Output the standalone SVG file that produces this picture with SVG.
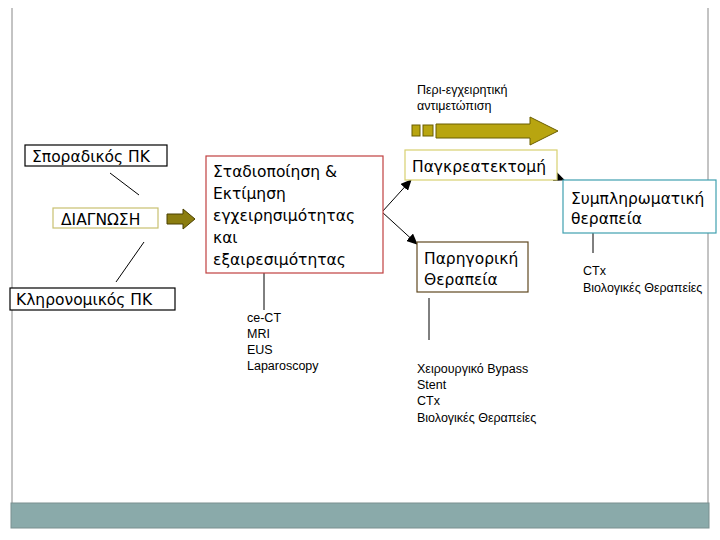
<svg xmlns="http://www.w3.org/2000/svg" width="720" height="540" viewBox="0 0 720 540">
<style>
.t{font-family:"Liberation Sans",Arial,sans-serif;fill:#000}
.b{font-family:"DejaVu Sans","Liberation Sans",sans-serif;font-size:15.5px}
.s{font-size:12.5px}
.box{fill:#fff;stroke-width:1.2}
.ln{stroke:#000;stroke-width:1;fill:none}
</style>
<defs><marker id="ah" markerWidth="11" markerHeight="10" refX="10" refY="5" orient="auto" markerUnits="userSpaceOnUse"><path d="M0,0L11,5L0,10Z" fill="#000"/></marker></defs>
<rect width="720" height="540" fill="#fff"/>
<line x1="12" y1="8" x2="12" y2="504" stroke="#888"/>
<line x1="708" y1="8" x2="708" y2="504" stroke="#888"/>
<rect x="11" y="503" width="698" height="25" fill="#8aaaaa" stroke="#7a9090"/>
<g id="connectors">
<line class="ln" x1="110" y1="173" x2="139" y2="195"/>
<line class="ln" x1="144" y1="242" x2="116" y2="282"/>
<path d="M167,214h16v-5l12,10l-12,10v-5h-16z" fill="#8b7d10" stroke="#4a4000"/>
<line class="ln" x1="264" y1="268" x2="264" y2="310"/>
<line class="ln" stroke-width="2" x1="382" y1="212" x2="411" y2="180" marker-end="url(#ah)"/>
<line class="ln" stroke-width="2" x1="382" y1="212" x2="417" y2="244" marker-end="url(#ah)"/>
<line class="ln" stroke-width="1.5" x1="546" y1="173" x2="564" y2="180" marker-end="url(#ah)"/>
<line class="ln" x1="593" y1="233" x2="593" y2="253"/>
<line class="ln" x1="429" y1="298" x2="429" y2="340"/>
</g>
<g id="periop">
<text class="t s" x="417" y="94" fill="#333">Περι-εγχειρητική</text>
<text class="t s" x="417" y="110" fill="#333">αντιμετώπιση</text>
<g fill="#b8a510" stroke="#6b5e00">
<rect x="412" y="125" width="8" height="11"/>
<rect x="423" y="125" width="10" height="11"/>
<path d="M436,124h94v-7l28,14l-28,14v-7h-94z"/>
</g>
</g>
<g id="sporadic"><rect class="box" x="25" y="145" width="142" height="21" stroke="#000"/><text class="t b" x="32" y="162">Σποραδικός ΠΚ</text></g>
<g id="diagnosis"><rect class="box" x="53" y="208" width="105" height="20" stroke="#c8c070"/><text class="t b" x="61" y="225">ΔΙΑΓΝΩΣΗ</text></g>
<g id="hereditary"><rect class="box" x="10" y="288" width="165" height="22" stroke="#000"/><text class="t b" x="16" y="305">Κληρονομικός ΠΚ</text></g>
<g id="staging"><rect class="box" x="206" y="156" width="177" height="117" stroke="#c04040"/>
<text class="t b" x="213" y="177">Σταδιοποίηση &amp;</text>
<text class="t b" x="213" y="199">Εκτίμηση</text>
<text class="t b" x="213" y="221">εγχειρησιμότητας</text>
<text class="t b" x="213" y="243">και</text>
<text class="t b" x="213" y="265">εξαιρεσιμότητας</text></g>
<g id="imaging"><text class="t s" x="247" y="322">ce-CT</text><text class="t s" x="247" y="338">MRI</text><text class="t s" x="247" y="354">EUS</text><text class="t s" x="247" y="370">Laparoscopy</text></g>
<g id="pancreatectomy"><rect class="box" x="405" y="150" width="152" height="30" stroke="#d8d070"/><text class="t b" x="412" y="172" font-size="16px">Παγκρεατεκτομή</text></g>
<g id="adjuvant"><rect class="box" x="563" y="180" width="153" height="53" stroke="#40a0b0"/><text class="t b" x="571" y="204">Συμπληρωματική</text><text class="t b" x="571" y="224">θεραπεία</text></g>
<g id="adjuvant-list"><text class="t s" x="583" y="275" font-size="11.5">CTx</text><text class="t s" x="583" y="292" font-size="11.5">Βιολογικές Θεραπείες</text></g>
<g id="palliative"><rect class="box" x="417" y="242" width="111" height="50" stroke="#604820"/><text class="t b" x="424" y="264">Παρηγορική</text><text class="t b" x="424" y="285">Θεραπεία</text></g>
<g id="palliative-list"><text class="t s" x="417" y="373">Χειρουργικό Bypass</text><text class="t s" x="417" y="389">Stent</text><text class="t s" x="417" y="405">CTx</text><text class="t s" x="417" y="422">Βιολογικές Θεραπείες</text></g>
</svg>
